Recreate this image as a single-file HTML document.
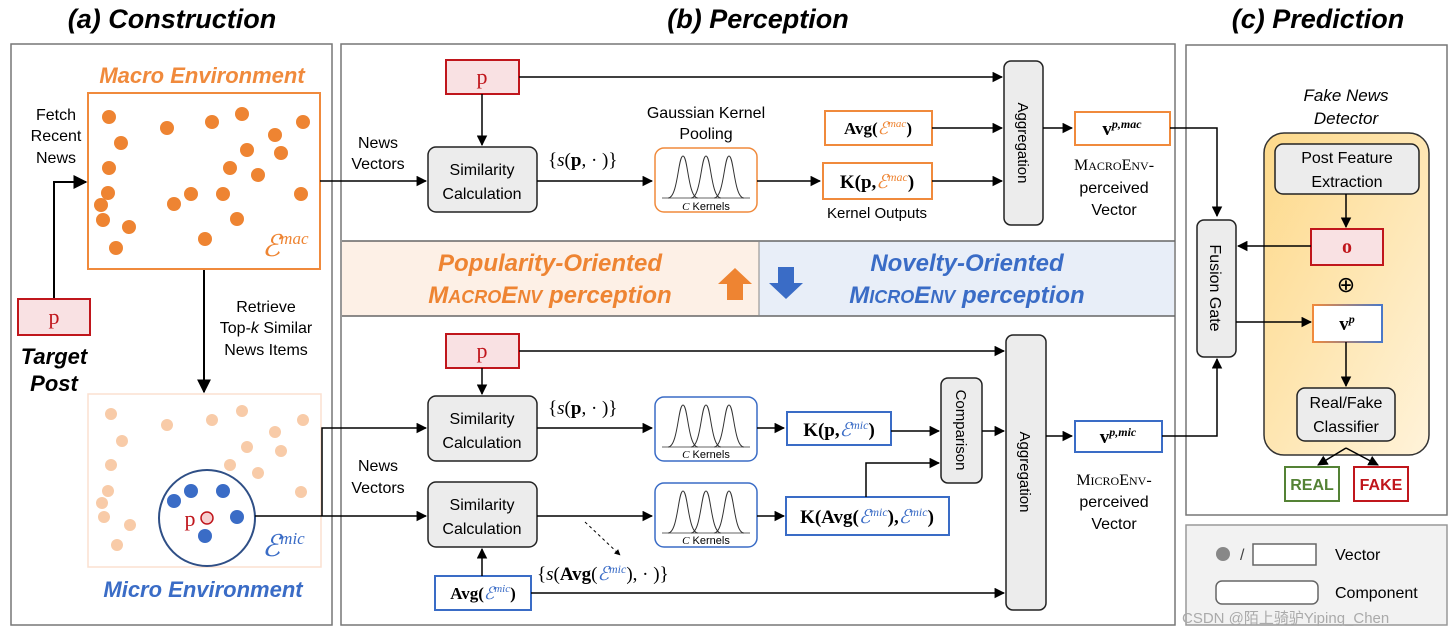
<!DOCTYPE html>
<html><head><meta charset="utf-8"><style>
html,body{margin:0;padding:0;background:#fff;}
svg{display:block;}
text{font-family:"Liberation Sans",sans-serif;}
.m{font-family:"Liberation Serif",serif;}
</style></head><body>
<svg width="1456" height="637" viewBox="0 0 1456 637" xmlns="http://www.w3.org/2000/svg">
<defs>
<marker id="ar" viewBox="0 0 10 10" refX="9" refY="5" markerWidth="6" markerHeight="6" orient="auto-start-reverse"><path d="M0,0 L10,5 L0,10 z" fill="#000"/></marker>
<marker id="as" viewBox="0 0 10 10" refX="9" refY="5" markerWidth="7" markerHeight="7" orient="auto"><path d="M0,0 L10,5 L0,10 z" fill="#000"/></marker>
<linearGradient id="yg" x1="0" y1="0" x2="1" y2="1"><stop offset="0" stop-color="#fdd98a"/><stop offset="1" stop-color="#fff3da"/></linearGradient>
<linearGradient id="vg" x1="0" y1="0" x2="1" y2="0"><stop offset="0" stop-color="#f08a3c"/><stop offset="1" stop-color="#4a78c8"/></linearGradient>
<g id="gk"><path d="M-44,0 L44,0" stroke="#666" stroke-width="1"/>
<path d="M-38,0 C-28,0 -28,-42 -23,-42 C-18,-42 -18,0 -8,0 M-15,0 C-5,0 -5,-42 0,-42 C5,-42 5,0 15,0 M8,0 C18,0 18,-42 23,-42 C28,-42 28,0 38,0" fill="none" stroke="#333" stroke-width="1"/></g>
</defs>

<g font-weight="bold" font-style="italic" font-size="27" text-anchor="middle" fill="#000">
<text x="172" y="28">(a) Construction</text>
<text x="758" y="28">(b) Perception</text>
<text x="1318" y="28">(c) Prediction</text>
</g>

<rect x="11" y="44" width="321" height="581" fill="none" stroke="#777" stroke-width="1.5"/>
<rect x="341" y="44" width="834" height="581" fill="none" stroke="#777" stroke-width="1.5"/>
<rect x="1186" y="45" width="261" height="470" fill="none" stroke="#777" stroke-width="1.5"/>
<rect x="1186" y="525" width="261" height="100" fill="#f2f2f2" stroke="#999" stroke-width="1.5"/>

<text x="202" y="83" text-anchor="middle" font-size="22" font-weight="bold" font-style="italic" fill="#f08a3c">Macro Environment</text>
<rect x="88" y="93" width="232" height="176" fill="#fff" stroke="#f08a3c" stroke-width="2"/>
<g fill="#ee8432">
<circle cx="109" cy="117" r="7"/><circle cx="167" cy="128" r="7"/><circle cx="212" cy="122" r="7"/><circle cx="242" cy="114" r="7"/><circle cx="303" cy="122" r="7"/><circle cx="275" cy="135" r="7"/><circle cx="121" cy="143" r="7"/><circle cx="247" cy="150" r="7"/><circle cx="281" cy="153" r="7"/><circle cx="109" cy="168" r="7"/><circle cx="230" cy="168" r="7"/><circle cx="258" cy="175" r="7"/><circle cx="108" cy="193" r="7"/><circle cx="191" cy="194" r="7"/><circle cx="223" cy="194" r="7"/><circle cx="301" cy="194" r="7"/><circle cx="101" cy="205" r="7"/><circle cx="174" cy="204" r="7"/><circle cx="103" cy="220" r="7"/><circle cx="129" cy="227" r="7"/><circle cx="237" cy="219" r="7"/><circle cx="205" cy="239" r="7"/><circle cx="116" cy="248" r="7"/>
</g>
<text x="262" y="256" class="m" font-size="30" font-style="italic" fill="#ee8432">ℰ<tspan font-size="17" dy="-12">mac</tspan></text>
<g font-size="16" text-anchor="middle"><text x="56" y="120">Fetch</text><text x="56" y="141">Recent</text><text x="56" y="163">News</text></g>
<path d="M54,299 L54,182 L86,182" fill="none" stroke="#000" stroke-width="2" marker-end="url(#as)"/>
<rect x="18" y="299" width="72" height="36" fill="#f9e1e3" stroke="#c0161c" stroke-width="2"/>
<text x="54" y="324" text-anchor="middle" class="m" font-size="22" fill="#c0161c">p</text>
<g font-size="22" font-weight="bold" font-style="italic" text-anchor="middle"><text x="54" y="364">Target</text><text x="54" y="391">Post</text></g>
<path d="M204,270 L204,392" stroke="#000" stroke-width="2" marker-end="url(#as)"/>
<g font-size="16" text-anchor="middle"><text x="266" y="312">Retrieve</text><text x="266" y="333">Top-<tspan font-style="italic">k</tspan> Similar</text><text x="266" y="355">News Items</text></g>
<rect x="88" y="394" width="233" height="173" fill="#fff" stroke="#fbe0d0" stroke-width="1.5"/>
<g fill="#f8cba8">
<circle cx="111" cy="414" r="6"/><circle cx="167" cy="425" r="6"/><circle cx="212" cy="420" r="6"/><circle cx="242" cy="411" r="6"/><circle cx="303" cy="420" r="6"/><circle cx="275" cy="432" r="6"/><circle cx="122" cy="441" r="6"/><circle cx="247" cy="447" r="6"/><circle cx="281" cy="451" r="6"/><circle cx="111" cy="465" r="6"/><circle cx="230" cy="465" r="6"/><circle cx="258" cy="473" r="6"/><circle cx="108" cy="491" r="6"/><circle cx="301" cy="492" r="6"/><circle cx="102" cy="503" r="6"/><circle cx="104" cy="517" r="6"/><circle cx="130" cy="525" r="6"/><circle cx="117" cy="545" r="6"/>
</g>
<circle cx="207" cy="518" r="48" fill="#fff" stroke="#2f4f86" stroke-width="2"/>
<g fill="#3a6cc6"><circle cx="191" cy="491" r="7"/><circle cx="223" cy="491" r="7"/><circle cx="174" cy="501" r="7"/><circle cx="237" cy="517" r="7"/><circle cx="205" cy="536" r="7"/></g>
<text x="190" y="526" text-anchor="middle" class="m" font-size="22" fill="#c0161c">p</text>
<circle cx="207" cy="518" r="6" fill="#f6d0d0" stroke="#c0161c" stroke-width="1.5"/>
<text x="262" y="556" class="m" font-size="30" font-style="italic" fill="#3a6cc6">ℰ<tspan font-size="17" dy="-12">mic</tspan></text>
<text x="203" y="597" text-anchor="middle" font-size="22" font-weight="bold" font-style="italic" fill="#3a6cc6">Micro Environment</text>

<path d="M320,181 L426,181" stroke="#000" stroke-width="1.5" marker-end="url(#as)"/>
<path d="M255,516 L426,516" stroke="#000" stroke-width="1.5" marker-end="url(#as)"/>
<path d="M322,516 L322,428 L426,428" fill="none" stroke="#000" stroke-width="1.5" marker-end="url(#as)"/>
<g font-size="16" text-anchor="middle"><text x="378" y="148">News</text><text x="378" y="169">Vectors</text><text x="378" y="471">News</text><text x="378" y="493">Vectors</text></g>

<rect x="446" y="60" width="73" height="34" fill="#f9e1e3" stroke="#c0161c" stroke-width="2"/>
<text x="482" y="84" text-anchor="middle" class="m" font-size="22" fill="#c0161c">p</text>
<path d="M519,77 L1002,77" stroke="#000" stroke-width="1.5" marker-end="url(#as)"/>
<path d="M482,94 L482,145" stroke="#000" stroke-width="1.5" marker-end="url(#as)"/>
<rect x="428" y="147" width="109" height="65" rx="8" fill="#ececec" stroke="#222" stroke-width="1.5"/>
<g font-size="16" text-anchor="middle"><text x="482" y="175">Similarity</text><text x="482" y="199">Calculation</text></g>
<text x="548" y="166" class="m" font-size="19">{<tspan font-style="italic">s</tspan>(<tspan font-weight="bold">p</tspan>, · )}</text>
<path d="M537,181 L652,181" stroke="#000" stroke-width="1.5" marker-end="url(#as)"/>
<g font-size="16" text-anchor="middle"><text x="706" y="118">Gaussian Kernel</text><text x="706" y="139">Pooling</text></g>
<rect x="655" y="148" width="102" height="64" rx="9" fill="#fff" stroke="#f08a3c" stroke-width="1.5"/>
<use href="#gk" x="706" y="198"/>
<text x="706" y="210" text-anchor="middle" font-size="11"><tspan class="m" font-style="italic">C</tspan> Kernels</text>
<path d="M757,181 L820,181" stroke="#000" stroke-width="1.5" marker-end="url(#as)"/>
<rect x="825" y="111" width="107" height="34" fill="#fff" stroke="#f08a3c" stroke-width="2"/>
<text x="878" y="134" text-anchor="middle" class="m" font-size="17" font-weight="bold">Avg(<tspan fill="#ee8432" font-weight="normal" font-style="italic">ℰ<tspan font-size="11" dy="-7">mac</tspan></tspan><tspan dy="7">)</tspan></text>
<path d="M932,128 L1002,128" stroke="#000" stroke-width="1.5" marker-end="url(#as)"/>
<rect x="823" y="163" width="109" height="36" fill="#fff" stroke="#f08a3c" stroke-width="2"/>
<text x="877" y="188" text-anchor="middle" class="m" font-size="19" font-weight="bold">K(p,<tspan fill="#ee8432" font-weight="normal" font-style="italic">ℰ<tspan font-size="12" dy="-7">mac</tspan></tspan><tspan dy="7">)</tspan></text>
<path d="M932,181 L1002,181" stroke="#000" stroke-width="1.5" marker-end="url(#as)"/>
<text x="877" y="218" text-anchor="middle" font-size="15">Kernel Outputs</text>
<rect x="1004" y="61" width="39" height="164" rx="7" fill="#ececec" stroke="#222" stroke-width="1.5"/>
<text transform="translate(1018,143) rotate(90)" text-anchor="middle" font-size="15">Aggregation</text>
<path d="M1043,128 L1072,128" stroke="#000" stroke-width="1.5" marker-end="url(#as)"/>
<rect x="1075" y="112" width="95" height="33" fill="#fff" stroke="#f08a3c" stroke-width="2"/>
<text x="1122" y="135" text-anchor="middle" class="m" font-size="19" font-weight="bold">v<tspan font-size="12" dy="-7" font-style="italic">p,mac</tspan></text>
<g font-size="16" text-anchor="middle"><text x="1114" y="170" class="m">M<tspan font-size="12">ACRO</tspan>E<tspan font-size="12">NV</tspan>-</text><text x="1114" y="193">perceived</text><text x="1114" y="215">Vector</text></g>
<path d="M1170,128 L1217,128 L1217,216" fill="none" stroke="#000" stroke-width="1.5" marker-end="url(#as)"/>

<rect x="342" y="241" width="417" height="75" fill="#fdf0e6"/>
<rect x="759" y="241" width="415" height="75" fill="#e8eef8"/>
<line x1="342" y1="241" x2="1175" y2="241" stroke="#666" stroke-width="1.5"/>
<line x1="342" y1="316" x2="1175" y2="316" stroke="#666" stroke-width="1.5"/>
<line x1="759" y1="241" x2="759" y2="316" stroke="#888" stroke-width="1"/>
<g font-size="24" font-weight="bold" font-style="italic" text-anchor="middle">
<text x="550" y="271" fill="#ee8432">Popularity-Oriented</text>
<text x="550" y="303" fill="#ee8432">M<tspan font-size="18">ACRO</tspan>E<tspan font-size="18">NV</tspan> perception</text>
<text x="967" y="271" fill="#3a6cc6">Novelty-Oriented</text>
<text x="967" y="303" fill="#3a6cc6">M<tspan font-size="18">ICRO</tspan>E<tspan font-size="18">NV</tspan> perception</text>
</g>
<path d="M735,268 L752,284 L743,284 L743,300 L727,300 L727,284 L718,284 Z" fill="#ee8432"/>
<path d="M786,299 L769,283 L778,283 L778,267 L794,267 L794,283 L803,283 Z" fill="#3a6cc6"/>

<rect x="446" y="334" width="73" height="34" fill="#f9e1e3" stroke="#c0161c" stroke-width="2"/>
<text x="482" y="358" text-anchor="middle" class="m" font-size="22" fill="#c0161c">p</text>
<path d="M519,351 L1004,351" stroke="#000" stroke-width="1.5" marker-end="url(#as)"/>
<path d="M482,368 L482,394" stroke="#000" stroke-width="1.5" marker-end="url(#as)"/>
<rect x="428" y="396" width="109" height="65" rx="8" fill="#ececec" stroke="#222" stroke-width="1.5"/>
<g font-size="16" text-anchor="middle"><text x="482" y="424">Similarity</text><text x="482" y="448">Calculation</text></g>
<text x="548" y="414" class="m" font-size="19">{<tspan font-style="italic">s</tspan>(<tspan font-weight="bold">p</tspan>, · )}</text>
<path d="M537,428 L652,428" stroke="#000" stroke-width="1.5" marker-end="url(#as)"/>
<rect x="655" y="397" width="102" height="64" rx="9" fill="#fff" stroke="#3a6cc6" stroke-width="1.5"/>
<use href="#gk" x="706" y="447"/>
<text x="706" y="458" text-anchor="middle" font-size="11"><tspan class="m" font-style="italic">C</tspan> Kernels</text>
<path d="M757,428 L784,428" stroke="#000" stroke-width="1.5" marker-end="url(#as)"/>
<rect x="787" y="412" width="104" height="33" fill="#fff" stroke="#3a6cc6" stroke-width="2"/>
<text x="839" y="436" text-anchor="middle" class="m" font-size="19" font-weight="bold">K(p,<tspan fill="#3a6cc6" font-weight="normal" font-style="italic">ℰ<tspan font-size="12" dy="-7">mic</tspan></tspan><tspan dy="7">)</tspan></text>
<path d="M891,431 L939,431" stroke="#000" stroke-width="1.5" marker-end="url(#as)"/>
<rect x="941" y="378" width="41" height="105" rx="7" fill="#ececec" stroke="#222" stroke-width="1.5"/>
<text transform="translate(956,430) rotate(90)" text-anchor="middle" font-size="15">Comparison</text>
<path d="M982,431 L1004,431" stroke="#000" stroke-width="1.5" marker-end="url(#as)"/>

<rect x="428" y="482" width="109" height="65" rx="8" fill="#ececec" stroke="#222" stroke-width="1.5"/>
<g font-size="16" text-anchor="middle"><text x="482" y="510">Similarity</text><text x="482" y="534">Calculation</text></g>
<path d="M537,516 L652,516" stroke="#000" stroke-width="1.5" marker-end="url(#as)"/>
<rect x="655" y="483" width="102" height="64" rx="9" fill="#fff" stroke="#3a6cc6" stroke-width="1.5"/>
<use href="#gk" x="706" y="533"/>
<text x="706" y="544" text-anchor="middle" font-size="11"><tspan class="m" font-style="italic">C</tspan> Kernels</text>
<path d="M757,516 L784,516" stroke="#000" stroke-width="1.5" marker-end="url(#as)"/>
<rect x="786" y="497" width="163" height="38" fill="#fff" stroke="#3a6cc6" stroke-width="2"/>
<text x="867" y="523" text-anchor="middle" class="m" font-size="19" font-weight="bold">K(Avg(<tspan fill="#3a6cc6" font-weight="normal" font-style="italic">ℰ<tspan font-size="12" dy="-7">mic</tspan></tspan><tspan dy="7">),</tspan><tspan fill="#3a6cc6" font-weight="normal" font-style="italic">ℰ<tspan font-size="12" dy="-7">mic</tspan></tspan><tspan dy="7">)</tspan></text>
<path d="M866,497 L866,463 L939,463" fill="none" stroke="#000" stroke-width="1.5" marker-end="url(#as)"/>
<path d="M585,522 L620,555" stroke="#000" stroke-width="1" stroke-dasharray="3,3" marker-end="url(#ar)"/>
<text x="537" y="580" class="m" font-size="19">{<tspan font-style="italic">s</tspan>(<tspan font-weight="bold">Avg</tspan>(<tspan fill="#3a6cc6" font-style="italic">ℰ<tspan font-size="12" dy="-7">mic</tspan></tspan><tspan dy="7">), · )}</tspan></text>
<rect x="435" y="576" width="96" height="34" fill="#fff" stroke="#3a6cc6" stroke-width="2"/>
<text x="483" y="599" text-anchor="middle" class="m" font-size="17" font-weight="bold">Avg(<tspan fill="#3a6cc6" font-weight="normal" font-style="italic">ℰ<tspan font-size="11" dy="-7">mic</tspan></tspan><tspan dy="7">)</tspan></text>
<path d="M482,576 L482,549" stroke="#000" stroke-width="1.5" marker-end="url(#as)"/>
<path d="M531,593 L1004,593" stroke="#000" stroke-width="1.5" marker-end="url(#as)"/>
<rect x="1006" y="335" width="40" height="275" rx="7" fill="#ececec" stroke="#222" stroke-width="1.5"/>
<text transform="translate(1020,472) rotate(90)" text-anchor="middle" font-size="15">Aggregation</text>
<path d="M1046,436 L1072,436" stroke="#000" stroke-width="1.5" marker-end="url(#as)"/>
<rect x="1075" y="421" width="87" height="31" fill="#fff" stroke="#3a6cc6" stroke-width="2"/>
<text x="1118" y="443" text-anchor="middle" class="m" font-size="19" font-weight="bold">v<tspan font-size="12" dy="-7" font-style="italic">p,mic</tspan></text>
<g font-size="16" text-anchor="middle"><text x="1114" y="485" class="m">M<tspan font-size="12">ICRO</tspan>E<tspan font-size="12">NV</tspan>-</text><text x="1114" y="507">perceived</text><text x="1114" y="529">Vector</text></g>
<path d="M1162,436 L1217,436 L1217,359" fill="none" stroke="#000" stroke-width="1.5" marker-end="url(#as)"/>

<g font-size="17" font-style="italic" text-anchor="middle"><text x="1346" y="101">Fake News</text><text x="1346" y="124">Detector</text></g>
<rect x="1264" y="133" width="165" height="322" rx="20" fill="url(#yg)" stroke="#333" stroke-width="1.5"/>
<rect x="1275" y="144" width="144" height="50" rx="8" fill="#ececec" stroke="#222" stroke-width="1.5"/>
<g font-size="16" text-anchor="middle"><text x="1347" y="163">Post Feature</text><text x="1347" y="187">Extraction</text></g>
<path d="M1346,194 L1346,227" stroke="#000" stroke-width="1.5" marker-end="url(#as)"/>
<rect x="1311" y="229" width="72" height="36" fill="#f9e1e3" stroke="#c0161c" stroke-width="2"/>
<text x="1347" y="253" text-anchor="middle" class="m" font-size="20" font-weight="bold" fill="#c0161c">o</text>
<rect x="1197" y="220" width="39" height="137" rx="7" fill="#ececec" stroke="#222" stroke-width="1.5"/>
<text transform="translate(1210,288) rotate(90)" text-anchor="middle" font-size="16">Fusion Gate</text>
<path d="M1311,246 L1238,246" stroke="#000" stroke-width="1.5" marker-end="url(#as)"/>
<text x="1346" y="292" text-anchor="middle" font-size="22" class="m">⊕</text>
<rect x="1313" y="305" width="69" height="37" fill="#fff" stroke="url(#vg)" stroke-width="2"/>
<text x="1347" y="330" text-anchor="middle" class="m" font-size="19" font-weight="bold">v<tspan font-size="12" dy="-7" font-style="italic">p</tspan></text>
<path d="M1236,322 L1311,322" stroke="#000" stroke-width="1.5" marker-end="url(#as)"/>
<path d="M1346,342 L1346,386" stroke="#000" stroke-width="1.5" marker-end="url(#as)"/>
<rect x="1297" y="388" width="98" height="53" rx="8" fill="#ececec" stroke="#222" stroke-width="1.5"/>
<g font-size="16" text-anchor="middle"><text x="1346" y="408">Real/Fake</text><text x="1346" y="432">Classifier</text></g>
<path d="M1346,448 L1318,465" stroke="#000" stroke-width="1.5" marker-end="url(#as)"/>
<path d="M1346,448 L1378,465" stroke="#000" stroke-width="1.5" marker-end="url(#as)"/>
<rect x="1285" y="467" width="54" height="34" fill="#fff" stroke="#548235" stroke-width="2"/>
<text x="1312" y="490" text-anchor="middle" font-size="16" font-weight="bold" fill="#548235">REAL</text>
<rect x="1354" y="467" width="54" height="34" fill="#fff" stroke="#c0161c" stroke-width="2"/>
<text x="1381" y="490" text-anchor="middle" font-size="16" font-weight="bold" fill="#c0161c">FAKE</text>

<circle cx="1223" cy="554" r="7" fill="#888"/>
<text x="1240" y="560" font-size="16" fill="#444">/</text>
<rect x="1253" y="544" width="63" height="21" fill="#fff" stroke="#666" stroke-width="1.5"/>
<text x="1335" y="560" font-size="16">Vector</text>
<rect x="1216" y="581" width="102" height="23" rx="6" fill="#fff" stroke="#666" stroke-width="1.5"/>
<text x="1335" y="598" font-size="16">Component</text>
<text x="1182" y="623" font-size="15" fill="#aaa" font-family="Liberation Sans, Noto Sans CJK SC, sans-serif">CSDN @陌上骑驴Yiping_Chen</text>
</svg>
</body></html>
